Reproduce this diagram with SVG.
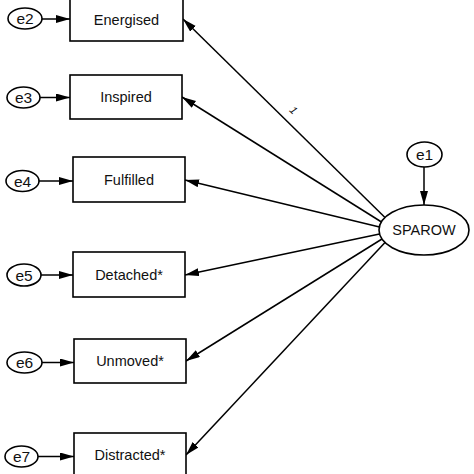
<svg xmlns="http://www.w3.org/2000/svg" width="474" height="474" viewBox="0 0 474 474">
<defs>
<marker id="ah" markerUnits="userSpaceOnUse" markerWidth="15" markerHeight="9" refX="14" refY="4" orient="auto">
<path d="M0,0 L14,4 L0,8 z" fill="#000"/>
</marker>
<style>
.box{fill:#fff;stroke:#000;stroke-width:1.6}
.ell{fill:#fff;stroke:#000;stroke-width:1.6}
.lbl{font-family:"Liberation Sans",Arial,sans-serif;font-size:14.5px;fill:#111;text-anchor:middle;dominant-baseline:central}
.elbl{font-family:"Liberation Sans",Arial,sans-serif;font-size:15.5px;fill:#111;text-anchor:middle;dominant-baseline:central}
.con line{stroke:#000;stroke-width:1.5;marker-end:url(#ah)}
</style>
</defs>
<rect width="474" height="474" fill="#fff"/>
<g id="connectors" class="con">
<line x1="385" y1="217.5" x2="183" y2="19"/>
<line x1="381.5" y1="222" x2="182" y2="97"/>
<line x1="379.5" y1="227" x2="185" y2="180"/>
<line x1="379.5" y1="234" x2="185" y2="275"/>
<line x1="382" y1="239" x2="186" y2="361"/>
<line x1="385" y1="242.5" x2="186" y2="455"/>
<line x1="424" y1="167" x2="424" y2="205"/>
<line x1="42" y1="19" x2="70" y2="19"/>
<line x1="40" y1="97.5" x2="70" y2="97.5"/>
<line x1="39" y1="181" x2="73" y2="181"/>
<line x1="41" y1="275" x2="73" y2="275"/>
<line x1="42" y1="362.5" x2="74" y2="362.5"/>
<line x1="38" y1="456.5" x2="74" y2="456.5"/>
</g>
<text x="291" y="113" transform="rotate(44 291 113)" font-family="Liberation Sans,Arial,sans-serif" font-size="11" font-style="italic" fill="#111" text-anchor="middle">1</text>
<g id="Energised"><rect class="box" x="70" y="-3" width="113" height="44"/><text class="lbl" x="126.5" y="20">Energised</text></g>
<g id="Inspired"><rect class="box" x="70" y="75" width="112" height="44"/><text class="lbl" x="126" y="97">Inspired</text></g>
<g id="Fulfilled"><rect class="box" x="73" y="157" width="112" height="45"/><text class="lbl" x="129" y="179.5">Fulfilled</text></g>
<g id="Detached"><rect class="box" x="73" y="252" width="112" height="45"/><text class="lbl" x="129" y="274.5">Detached*</text></g>
<g id="Unmoved"><rect class="box" x="74" y="339" width="112" height="44"/><text class="lbl" x="130" y="361">Unmoved*</text></g>
<g id="Distracted"><rect class="box" x="74" y="433" width="112" height="44"/><text class="lbl" x="130" y="455">Distracted*</text></g>
<g id="SPAROW"><ellipse class="ell" cx="424" cy="230" rx="45" ry="25"/><text class="lbl" x="424" y="230">SPAROW</text></g>
<g id="e1"><ellipse class="ell" cx="424.5" cy="154.5" rx="17.5" ry="12.5"/><text class="elbl" x="424.5" y="154.5">e1</text></g>
<g id="e2"><ellipse class="ell" cx="25" cy="18.5" rx="17" ry="10.5"/><text class="elbl" x="25" y="18.5">e2</text></g>
<g id="e3"><ellipse class="ell" cx="23.5" cy="97.5" rx="16.5" ry="10.5"/><text class="elbl" x="23.5" y="97.5">e3</text></g>
<g id="e4"><ellipse class="ell" cx="22.5" cy="181" rx="16.5" ry="10.5"/><text class="elbl" x="22.5" y="181">e4</text></g>
<g id="e5"><ellipse class="ell" cx="24" cy="275" rx="17" ry="11"/><text class="elbl" x="24" y="275">e5</text></g>
<g id="e6"><ellipse class="ell" cx="24.5" cy="362.5" rx="17.5" ry="10.5"/><text class="elbl" x="24.5" y="362.5">e6</text></g>
<g id="e7"><ellipse class="ell" cx="21.5" cy="456.5" rx="16.5" ry="10.5"/><text class="elbl" x="21.5" y="456.5">e7</text></g>
</svg>
